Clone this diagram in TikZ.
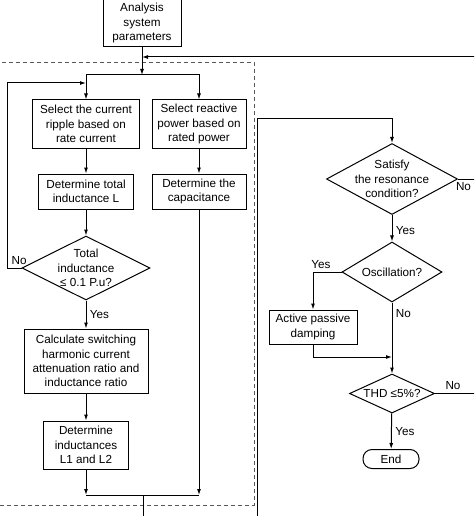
\documentclass[tikz,border=0pt]{standalone}
\usepackage{fontspec}
\setmainfont{Liberation Sans}
\usetikzlibrary{shapes.geometric,arrows.meta}

\begin{document}
\begin{tikzpicture}[x=1pt,y=-1pt,line width=1pt,>={Latex[length=6pt,width=4pt]},
	box/.style={draw,align=center,inner sep=0pt,font=\fontsize{11.7}{14.3}\selectfont},
	dia/.style={draw,diamond,inner sep=0pt},
	txt/.style={align=center,inner sep=0pt,font=\fontsize{11.7}{14.3}\selectfont},
	lab/.style={font=\fontsize{11.7}{14}\selectfont}]
	
	\useasboundingbox (0,0) rectangle (474,516);
	\clip (0,0) rectangle (474,516);
	
	\draw[black!65,line width=0.9pt,dash pattern=on 4pt off 3pt] (-5,62) -- (254,62) -- (254,505) -- (-5,505);
	
	\node[box,minimum width=78pt,minimum height=48pt] (ana) at (142,23) {Analysis\\system\\parameters};
	\node[box,minimum width=107pt,minimum height=48pt] (sel1) at (86,124) {Select the current\\ripple based on\\rate current};
	\node[box,minimum width=94pt,minimum height=48pt] (sel2) at (199,124) {Select reactive\\power based on\\rated power};
	\node[box,minimum width=95pt,minimum height=35pt] (tot) at (86,191.5) {Determine total\\inductance L};
	\node[box,minimum width=94pt,minimum height=35pt] (cap) at (199,191.5) {Determine the\\capacitance};
	\node[dia,minimum width=128pt,minimum height=64pt] (chk) at (86,268) {};
	\node[txt] (chkt) at (chk) {Total\\inductance\\≤ 0.1 P.u?};
	\node[box,minimum width=124pt,minimum height=64pt] (calc) at (86,361) {Calculate switching\\harmonic current\\attenuation ratio and\\inductance ratio};
	\node[box,minimum width=85pt,minimum height=48pt] (ind) at (86,445) {Determine\\inductances\\L1 and L2};
	
	\node[dia,minimum width=131pt,minimum height=71pt] (res) at (392,179) {};
	\node[txt] (rest) at (res) {Satisfy\\the resonance\\condition?};
	\node[dia,minimum width=100pt,minimum height=60pt] (osc) at (392,272) {};
	\node[txt] (osct) at (osc) {Oscillation?};
	\node[box,minimum width=88pt,minimum height=34pt] (damp) at (313,327) {Active passive\\damping};
	\node[dia,minimum width=85pt,minimum height=39pt] (thd) at (392,393.5) {};
	\node[txt] (thdt) at (thd) {THD ≤5\%?};
	\node[box,rounded corners=9pt,minimum width=56pt,minimum height=19pt] (end) at (391,459) {End};
	
	\coordinate (split) at (142,75);
	\coordinate (back) at (7,83);
	\coordinate (merge) at (143,495);
	\coordinate (out) at (143,520);
	\coordinate (loop) at (257,520);
	\coordinate (top) at (257,118);
	\coordinate (join) at (392,357);
	\coordinate (r0) at (480,57);
	\coordinate (r1) at (480,179);
	\coordinate (r2) at (480,393.5);
	
	\draw[->] (ana) -- (split);
	\draw[->] (r0) -- (ana |- r0);
	\draw[->] (split) -| (sel1);
	\draw[->] (split) -| (sel2);
	\draw[->] (sel1) -- (tot);
	\draw[->] (sel2) -- (cap);
	\draw[->] (tot) -- (chk);
	\draw[->] (chk.west) -| node[lab,above,pos=0.08]{No} (back) -- (sel1.north |- back);
	\draw[->] (chk) -- node[lab,right]{Yes} (calc);
	\draw[->] (calc) -- (ind);
	\draw[->] (ind) -- (ind |- merge);
	\draw[->] (cap) -- (cap |- merge);
	\draw (ind |- merge) -- (cap |- merge);
	\draw (merge) -- (out);
	
	\draw[->] (loop) -- (top) -| (res);
	\draw (res.east) -- node[lab,below,pos=0.25]{No} (r1);
	\draw[->] (res) -- node[lab,right,pos=0.6]{Yes} (osc);
	\draw[->] (osc.west) -| node[lab,above,pos=0.36]{Yes} (damp);
	\draw[->] (damp) |- (join);
	\draw[->] (osc) -- node[lab,right,pos=0.15]{No} (thd);
	\draw (thd.east) -- node[lab,above,pos=0.4]{No} (r2);
	\draw[->] (thd) -- node[lab,right]{Yes} (end);

\end{tikzpicture}
\end{document}
